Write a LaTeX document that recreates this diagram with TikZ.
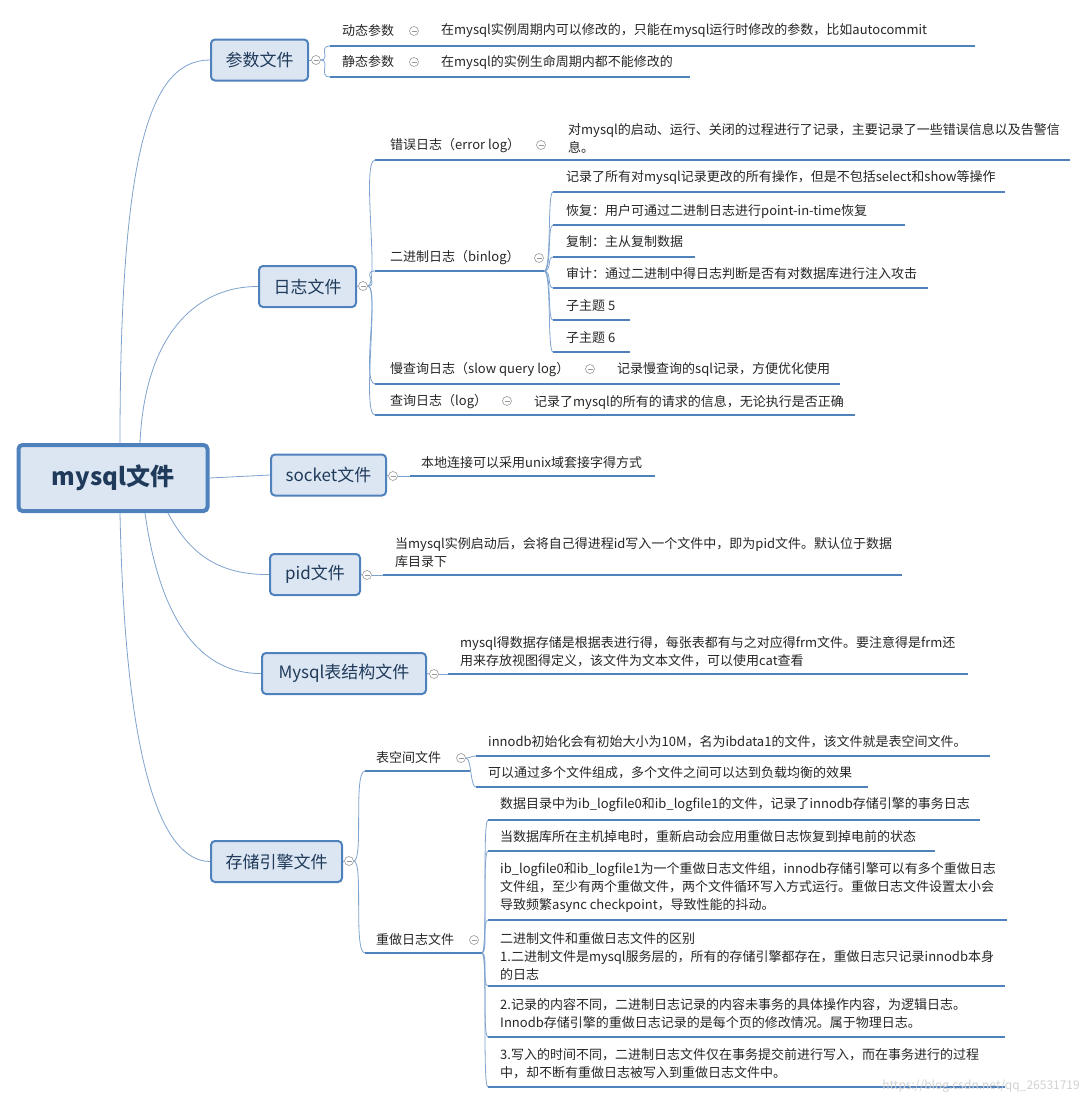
\documentclass[tikz,border=0pt]{standalone}
\usepackage{fontspec}
\setmainfont{Noto Sans CJK SC}
\begin{document}
\begin{tikzpicture}[x=1pt,y=-1pt,
 lvone/.style={draw=boxc,line width=2pt,fill=boxf,rounded corners=4pt,font=\fontsize{17}{20}\selectfont,text=txtc,minimum height=41pt,inner sep=0pt},
 tx/.style={anchor=west,inner sep=0pt,font=\fontsize{13}{18}\selectfont,text=black!85,align=left},
 ul/.style={draw=boxc,line width=2.2pt},
 br/.style={draw=brc,line width=0.8pt},
 circ/.style={circle,draw=gray!80,line width=0.6pt,minimum size=9pt,inner sep=0pt,path picture={\draw[gray!80,line width=0.6pt] ([xshift=-2.5pt]path picture bounding box.center)--([xshift=2.5pt]path picture bounding box.center);}}]
\definecolor{boxc}{HTML}{4F81BD}
\definecolor{boxf}{HTML}{DCE6F2}
\definecolor{txtc}{HTML}{1F3A5A}
\definecolor{brc}{HTML}{7FA3CF}
\fill[white] (0,0) rectangle (1089,1104);
\useasboundingbox (0,0) rectangle (1089,1104);
\newcommand\ulk[4]{\coordinate (#1) at (#2,#4); \draw[ul] (#1) -- (#3,#4);}
% root
\node[lvone,line width=4pt,minimum width=189pt,minimum height=66pt,font=\fontsize{24}{28}\selectfont\bfseries] (root) at (113,478) {mysql文件};
% level 1
\node[lvone,minimum width=97pt] (p1) at (259.5,60) {参数文件};
\node[lvone,minimum width=97pt] (p2) at (307.5,286.5) {日志文件};
\node[lvone,minimum width=115pt] (p3) at (328.5,475) {socket文件};
\node[lvone,minimum width=90pt] (p4) at (315,574.5) {pid文件};
\node[lvone,minimum width=164pt] (p5) at (344,673.5) {Mysql表结构文件};
\node[lvone,minimum width=131pt] (p6) at (276.5,861.5) {存储引擎文件};
\coordinate (r1) at (120,443); \coordinate (r2) at (140,443);
\coordinate (r4) at (168,513); \coordinate (r5) at (145,513); \coordinate (r6) at (120,513);
\draw[br] (r1) .. controls (120,150) and (150,60) .. (p1.west);
\draw[br] (r2) .. controls (145,330) and (200,286) .. (p2.west);
\draw[br] (root.east) -- (p3.west);
\draw[br] (r4) .. controls (190,555) and (220,575) .. (p4.west);
\draw[br] (r5) .. controls (160,620) and (200,674) .. (p5.west);
\draw[br] (r6) .. controls (125,760) and (160,861) .. (p6.west);
% circles of level 1
\node[circ] (c1) at (316,60) {}; \draw[br] (p1.east)--(c1.west);
\node[circ] (c2) at (363,286) {}; \draw[br] (p2.east)--(c2.west);
\node[circ] (c3) at (393,476) {}; \draw[br] (p3.east)--(c3.west);
\node[circ] (c4) at (367,575) {}; \draw[br] (p4.east)--(c4.west);
\node[circ] (c5) at (434,674) {}; \draw[br] (p5.east)--(c5.west);
\node[circ] (c6) at (349,861) {}; \draw[br] (p6.east)--(c6.west);
% 参数文件
\node[tx] (a1) at (342,31) {动态参数}; \ulk{ua1}{330}{425}{46}
\node[tx] (a2) at (342,62) {静态参数}; \ulk{ua2}{330}{425}{77}
\draw[br] (c1.east) .. controls +(10,0) and +(-12,0) .. (ua1);
\draw[br] (c1.east) .. controls +(10,0) and +(-12,0) .. (ua2);
\node[circ] (ca1) at (414,31) {}; \node[circ] (ca2) at (414,62) {};
\node[tx] (a1l) at (441,31) {在mysql实例周期内可以修改的，只能在mysql运行时修改的参数，比如autocommit}; \ulk{ua1l}{425}{975}{46}
\node[tx] (a2l) at (441,62) {在mysql的实例生命周期内都不能修改的}; \ulk{ua2l}{425}{690}{77}
% 日志文件
\node[tx] (b1) at (390,146) {错误日志（error log）}; \ulk{ub1}{375}{555}{160}
\node[tx] (b2) at (390,258) {二进制日志（binlog）}; \ulk{ub2}{375}{545}{271}
\node[tx] (b3) at (390,370) {慢查询日志（slow query log）}; \ulk{ub3}{375}{605}{384}
\node[tx] (b4) at (390,402) {查询日志（log）}; \ulk{ub4}{375}{520}{415}
\foreach \u in {ub1,ub2,ub3,ub4} \draw[br] (c2.east) .. controls +(12,0) and +(-14,0) .. (\u);
\node[circ] (cb1) at (541,145) {}; \node[circ] (cb3) at (590,369) {}; \node[circ] (cb4) at (507,401) {};
\node[circ] (cb2c) at (539,258) {};
\node[tx] (b1l) at (568,138) {对mysql的启动、运行、关闭的过程进行了记录，主要记录了一些错误信息以及告警信\\息。}; \ulk{ub1l}{555}{1070}{160}
\node[tx] (b3l) at (617,369) {记录慢查询的sql记录，方便优化使用}; \ulk{ub3l}{605}{840}{384}
\node[tx] (b4l) at (534,402) {记录了mysql的所有的请求的信息，无论执行是否正确}; \ulk{ub4l}{520}{855}{415}
\coordinate (cb2) at (544,271);
\node[tx] at (566,178) {记录了所有对mysql记录更改的所有操作，但是不包括select和show等操作}; \ulk{v1}{553}{1005}{192}
\node[tx] at (566,211) {恢复：用户可通过二进制日志进行point-in-time恢复}; \ulk{v2}{553}{905}{225}
\node[tx] at (566,242) {复制：主从复制数据}; \ulk{v3}{553}{695}{257}
\node[tx] at (566,274) {审计：通过二进制中得日志判断是否有对数据库进行注入攻击}; \ulk{v4}{553}{928}{288}
\node[tx] at (566,306) {子主题 5}; \ulk{v5}{553}{630}{320}
\node[tx] at (566,338) {子主题 6}; \ulk{v6}{553}{630}{352}
\foreach \u in {v1,v2,v3,v4,v5,v6} \draw[br] (cb2) .. controls +(8,0) and +(-6,0) .. (\u);
% socket
\node[tx] (s1) at (421,463) {本地连接可以采用unix域套接字得方式}; \ulk{us1}{410}{655}{476}
\draw[br] (c3.east) -- (us1);
% pid
\node[tx] (d1) at (395,553) {当mysql实例启动后，会将自己得进程id写入一个文件中，即为pid文件。默认位于数据\\库目录下}; \ulk{ud1}{383}{902}{575}
\draw[br] (c4.east) -- (ud1);
% 表结构
\node[tx] (e1) at (460,652) {mysql得数据存储是根据表进行得，每张表都有与之对应得frm文件。要注意得是frm还\\用来存放视图得定义，该文件为文本文件，可以使用cat查看}; \ulk{ue1}{448}{968}{674}
\draw[br] (c5.east) -- (ue1);
% 存储引擎文件
\node[tx] (f1) at (376,758) {表空间文件}; \ulk{uf1}{365}{470}{771}
\node[tx] (f2) at (376,940) {重做日志文件}; \ulk{uf2}{365}{482}{953}
\foreach \u in {uf1,uf2} \draw[br] (c6.east) .. controls +(10,0) and +(-12,0) .. (\u);
\node[circ] (cf1) at (461,758) {}; \node[circ] (cf2c) at (474,940) {}; \coordinate (cf2) at (482,953);
\node[tx] at (488,742) {innodb初始化会有初始大小为10M，名为ibdata1的文件，该文件就是表空间文件。}; \ulk{w1}{476}{990}{756}
\node[tx] at (488,773) {可以通过多个文件组成，多个文件之间可以达到负载均衡的效果}; \ulk{w2}{476}{868}{787}
\foreach \u in {w1,w2} \draw[br] (cf1.east) .. controls +(6,0) and +(-6,0) .. (\u);
\node[tx] at (500,805) {数据目录中为ib\_logfile0和ib\_logfile1的文件，记录了innodb存储引擎的事务日志}; \ulk{z1}{488}{980}{820}
\node[tx] at (500,837) {当数据库所在主机掉电时，重新启动会应用重做日志恢复到掉电前的状态}; \ulk{z2}{488}{935}{851}
\node[tx] at (500,888) {ib\_logfile0和ib\_logfile1为一个重做日志文件组，innodb存储引擎可以有多个重做日志\\文件组，至少有两个重做文件，两个文件循环写入方式运行。重做日志文件设置太小会\\导致频繁async checkpoint，导致性能的抖动。}; \ulk{z3}{488}{1007}{920}
\node[tx] at (500,956) {二进制文件和重做日志文件的区别\\1.二进制文件是mysql服务层的，所有的存储引擎都存在，重做日志只记录innodb本身\\的日志}; \ulk{z4}{488}{1005}{986}
\node[tx] at (500,1014) {2.记录的内容不同，二进制日志记录的内容未事务的具体操作内容，为逻辑日志。\\Innodb存储引擎的重做日志记录的是每个页的修改情况。属于物理日志。}; \ulk{z5}{488}{1005}{1037}
\node[tx] at (500,1064) {3.写入的时间不同，二进制日志文件仅在事务提交前进行写入，而在事务进行的过程\\中，却不断有重做日志被写入到重做日志文件中。}; \ulk{z6}{488}{1005}{1087}
\foreach \u in {z1,z2,z3,z4,z5,z6} \draw[br] (cf2) .. controls +(6,0) and +(-6,0) .. (\u);
\node[anchor=east,inner sep=0pt,font=\fontsize{12}{14}\selectfont,text=gray!35] (wm) at (1080,1086) {https://blog.csdn.net/qq\_26531719};
\end{tikzpicture}
\end{document}
